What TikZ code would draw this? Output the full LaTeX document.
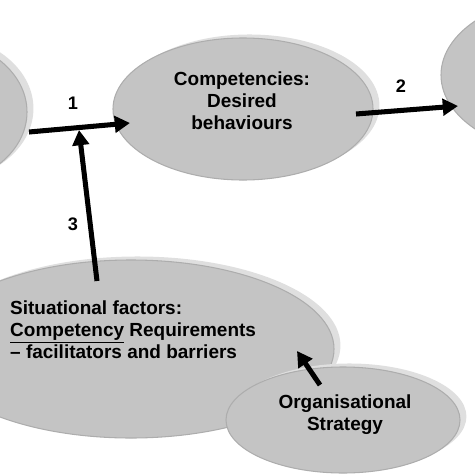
\documentclass[tikz,border=0pt]{standalone}
\usepackage{fontspec}
\setmainfont{Liberation Sans}
\usetikzlibrary{arrows.meta,shapes.geometric,shadows}
\definecolor{ovalgray}{HTML}{C4C4C4}
\definecolor{rimgray}{HTML}{DFDFDF}
\definecolor{edgegray}{HTML}{ADADAD}
\tikzset{
  oval/.style={ellipse, inner sep=0pt, fill=ovalgray, draw=edgegray, line width=0.9pt,
    drop shadow={shadow xshift=5.5pt, shadow yshift=3pt, fill=rimgray, opacity=1}},
  arr/.style={line width=4.3pt, -{Triangle[length=13pt,width=14pt]}},
  txt/.style={font=\bfseries\fontsize{16.2}{18.7}\selectfont, inner sep=0pt},
  num/.style={font=\bfseries\fontsize{15.5}{17}\selectfont, inner sep=0pt}
}
\begin{document}
\begin{tikzpicture}[x=0.03cm, y=-0.03cm]
        \useasboundingbox (0,0) rectangle (474,474);

        \node[oval, minimum width=5.94cm, minimum height=4.5cm] (lft) at (-72,112) {};
        \node[oval, minimum width=7.8cm, minimum height=4.8cm] (rgt) at (571,75) {};
        \node[oval, minimum width=7.8cm, minimum height=4.26cm] (comp) at (243,109) {};
        \node[oval, minimum width=12.18cm, minimum height=5.34cm] (sit) at (131,349) {};
        \node[oval, minimum width=7.02cm, minimum height=3.18cm] (org) at (343,420) {};

        \node[txt, align=center] (comptxt) at (242,101)
            {Competencies:\\Desired\\behaviours};
        \node[txt, align=left, anchor=west] (sittxt) at (10,330)
            {Situational factors:\\\underline{Competency} Requirements\\-- facilitators and barriers};
        \node[txt, align=center] (orgtxt) at (345,415)
            {Organisational\\Strategy};

        %%%
        \coordinate (a1s) at (29,132);
        \coordinate (a1e) at (130,123);
        \coordinate (a2s) at (356,114);
        \coordinate (a2e) at (458,106);
        \coordinate (a3s) at (97,281);
        \coordinate (a3e) at (79,130);
        \coordinate (a4s) at (320,385);
        \coordinate (a4e) at (297,351);

        \draw[arr] (a1s) -- (a1e);
        \draw[arr] (a2s) -- (a2e);
        \draw[arr] (a3s) -- (a3e);
        \draw[arr] (a4s) -- (a4e);

        \node[num] (n1) at (73,103) {1};
        \node[num] (n2) at (401,86) {2};
        \node[num] (n3) at (73,224) {3};
\end{tikzpicture}
\end{document}
